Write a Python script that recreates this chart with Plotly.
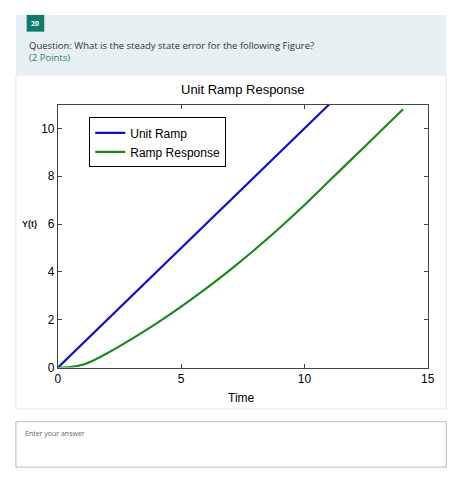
import plotly.graph_objects as go

t_ramp = [0, 11]
y_ramp = [0, 11]
t_resp = [0, 0.5, 1, 1.5, 2, 3, 4, 5, 6, 7, 8, 9, 10, 11, 12, 13, 14]
y_resp = [0, 0.02, 0.12, 0.33, 0.6, 1.2, 1.85, 2.55, 3.3, 4.1, 4.95, 5.85, 6.8, 7.8, 8.8, 9.8, 10.8]

W, H = 474, 488
OFF = 8
FW, FH = W - 2 * OFF, H - 2 * OFF
def px(x): return (x - OFF) / FW
def py(y): return 1 - (y - OFF) / FH

fig = go.Figure()
fig.add_trace(go.Scatter(x=t_ramp, y=y_ramp, mode="lines", name="Unit Ramp",
                         line=dict(color="#1010c0", width=2.2)))
fig.add_trace(go.Scatter(x=t_resp, y=y_resp, mode="lines", name="Ramp Response",
                         line=dict(color="#1a8a1a", width=2.2, shape="spline")))

shapes = [
    dict(type="rect", xref="paper", yref="paper", x0=px(13), x1=px(453), y0=py(76), y1=py(15),
         fillcolor="#e6eff2", line=dict(width=0), layer="below"),
    dict(type="rect", xref="paper", yref="paper", x0=px(13), x1=px(453), y0=py(415), y1=py(76),
         fillcolor="white", line=dict(color="#dfeaee", width=1), layer="below"),
    dict(type="rect", xref="paper", yref="paper", x0=px(24), x1=px(42), y0=py(32), y1=py(15),
         fillcolor="#0f7a6e", line=dict(width=0), layer="below"),
    dict(type="rect", xref="paper", yref="paper", x0=px(13), x1=px(453), y0=py(474), y1=py(428),
         fillcolor="white", line=dict(color="#bbbbbb", width=1), layer="below"),
]
def A(text, x, y, size, color="black", family="Liberation Sans", xa="center", ya="middle", **kw):
    return dict(text=text, x=px(x), y=py(y), xref="paper", yref="paper", xanchor=xa, yanchor=ya,
                showarrow=False, font=dict(color=color, size=size, family=family), **kw)

ann = [
    A("<b>20</b>", 33, 23.5, 7, color="white", family="Open Sans"),
    A("Question: What is the steady state error for the following Figure?<br><span style='color:#2a7f8f'>(2 Points)</span>",
      24, 37, 9.5, color="#333", family="Open Sans", xa="left", ya="top", align="left"),
    A("Unit Ramp Response", 245, 91, 13),
    A("<b>Y(t)</b>", 27, 227, 9, color="#222"),
    A("Time", 244, 404, 12),
    A("Enter your answer", 20, 433, 7, color="#666", family="Open Sans", xa="left", ya="top"),
]

fig.update_layout(
    width=FW, height=FH, margin=dict(l=0, r=0, t=0, b=0),
    paper_bgcolor="white", plot_bgcolor="white",
    shapes=shapes, annotations=ann,
    showlegend=True,
    legend=dict(x=px(88), y=py(119), xanchor="left", yanchor="top", bgcolor="white",
                bordercolor="black", borderwidth=1, tracegroupgap=0,
                font=dict(size=12, family="Liberation Sans", color="black")),
    xaxis=dict(domain=[px(56), px(434)], range=[0, 15], tickvals=[0, 5, 10, 15],
               showgrid=False, zeroline=False, showline=True, linecolor="#444", mirror="ticks",
               ticks="inside", ticklen=4, tickcolor="#444",
               tickfont=dict(size=12, family="Liberation Sans", color="black")),
    yaxis=dict(domain=[py(373), py(106)], range=[0, 11], tickvals=[0, 2, 4, 6, 8, 10],
               showgrid=False, zeroline=False, showline=True, linecolor="#444", mirror="ticks",
               ticks="inside", ticklen=4, tickcolor="#444",
               tickfont=dict(size=12, family="Liberation Sans", color="black")),
)
fig.write_html("out.html")
